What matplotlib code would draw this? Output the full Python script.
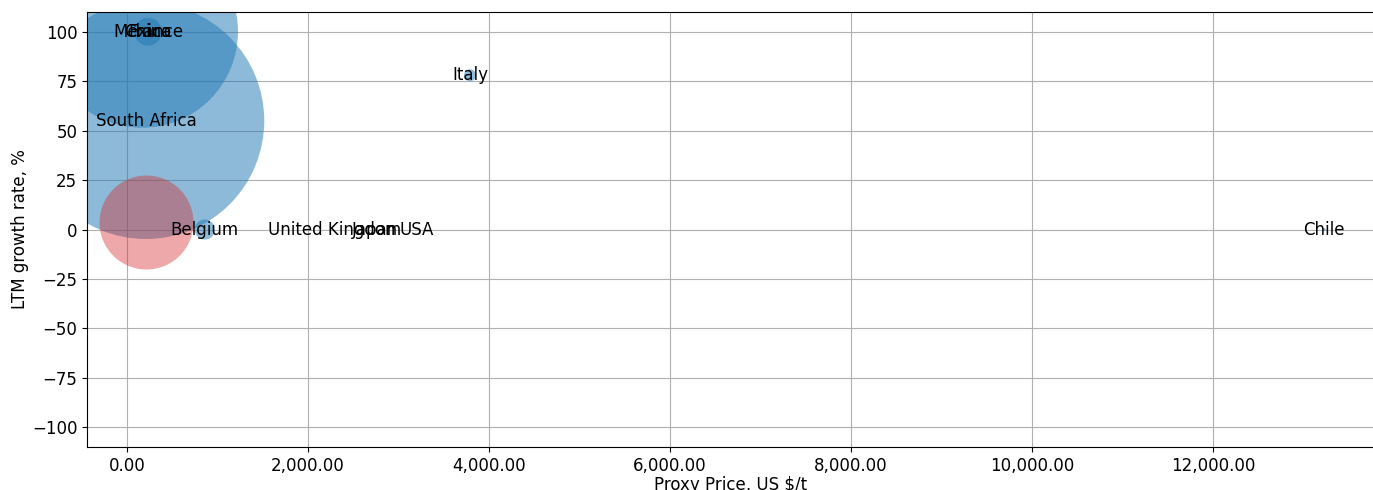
import numpy as np
import matplotlib.pyplot as plt
from matplotlib.ticker import FuncFormatter

countries = ["Mexico", "China", "France", "South Africa", "Italy",
             "Belgium", "United Kingdom", "Japan", "USA", "Chile"]
price = [166, 232, 320, 210, 3790, 860, 2290, 2740, 3200, 13227]
growth = [100, 100, 100, 55, 78, 0, 0, 0, 0, 0]
sizes = [19100, 400, 0, 29000, 75, 210, 0, 0, 0, 5]

# highlighted bubble (no label)
hl_price = [210]
hl_growth = [4]
hl_size = [4580]

fig = plt.figure(figsize=(13.73, 4.9), dpi=100)
ax = fig.add_axes([87/1373, 43/490, 1288/1373, 435/490])

ax.scatter(price, growth, s=sizes, color="tab:blue", alpha=0.5, linewidths=0)
ax.scatter(hl_price, hl_growth, s=hl_size, color="tab:red", alpha=0.4, linewidths=0)

for c, x, y in zip(countries, price, growth):
    ax.text(x, y, c, ha="center", va="center", fontsize=12)

ax.set_xlim(-442, 13790)
ax.set_ylim(-110, 110)
ax.set_xticks(np.arange(0, 13000, 2000))
ax.set_yticks(np.arange(-100, 101, 25))
ax.xaxis.set_major_formatter(FuncFormatter(lambda v, p: f"{v:,.2f}"))
ax.tick_params(labelsize=12)
ax.grid(True)
ax.set_axisbelow(True)
ax.set_xlabel("Proxy Price, US $/t", fontsize=12, labelpad=1)
ax.set_ylabel("LTM growth rate, %", fontsize=12, labelpad=2)

fig.savefig("out.png", dpi=100)
